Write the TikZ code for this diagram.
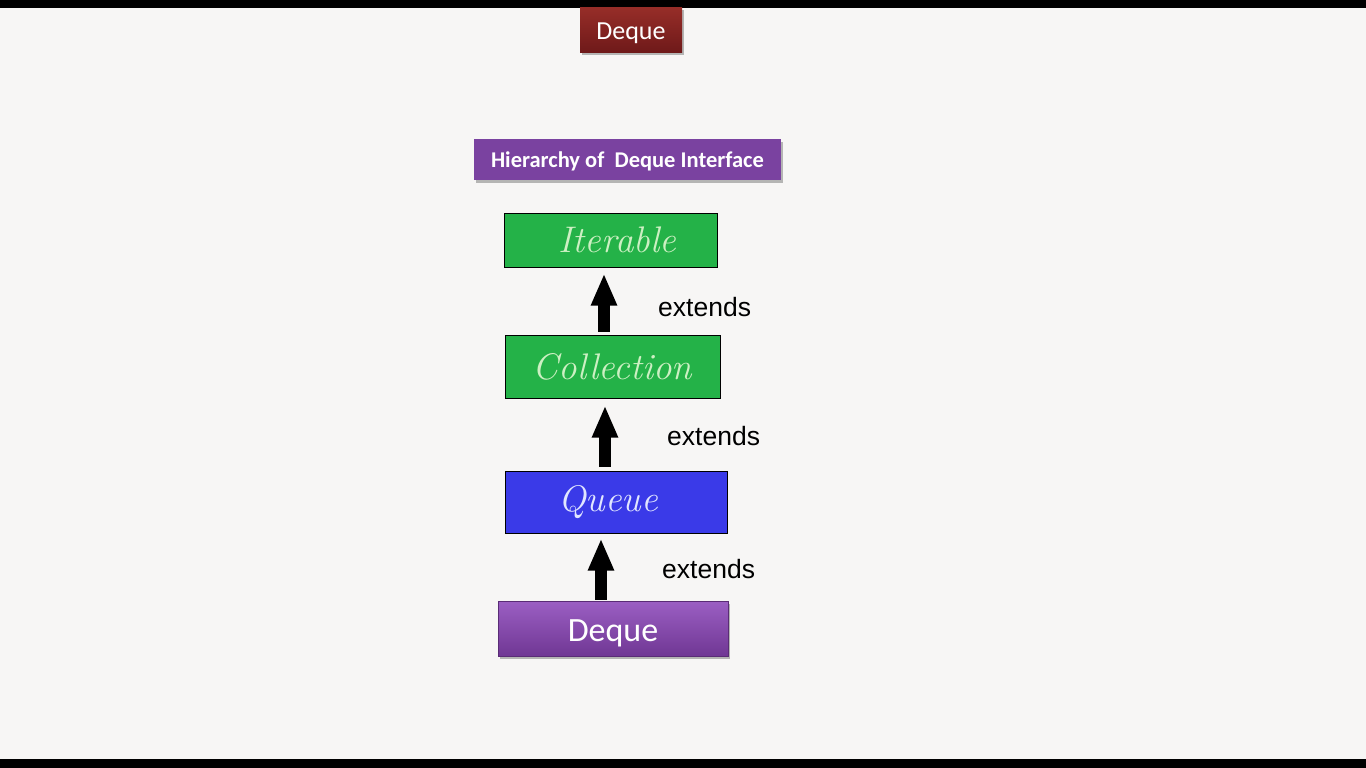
\documentclass[tikz,border=0pt]{standalone}
\usepackage{fontspec}
\setmainfont{Carlito}
\newfontfamily\arialf{Liberation Sans}
\usetikzlibrary{arrows.meta,shadows}
\definecolor{bg}{RGB}{247,246,245}
\definecolor{redtop}{RGB}{150,45,40}
\definecolor{redbot}{RGB}{110,25,25}
\definecolor{purpH}{RGB}{122,66,160}
\definecolor{purpT}{RGB}{155,95,195}
\definecolor{purpB}{RGB}{112,55,148}
\definecolor{gbox}{RGB}{36,178,72}
\definecolor{gtext}{RGB}{205,240,195}
\definecolor{bbox}{RGB}{58,58,232}
\definecolor{btext}{RGB}{225,230,255}
\tikzset{
  x=1pt,y=-1pt,
  shadowed/.style={drop shadow={shadow xshift=1.5pt,shadow yshift=-2.5pt,opacity=0.45,fill=black!60}},
  titlebox/.style={shadowed,rectangle,inner sep=0pt,text=white},
  classbox/.style={rectangle,draw=black,line width=1pt,inner sep=0pt,
     font=\fontsize{37}{40}\selectfont\itshape\rmfamily},
  blockarrow/.style={line width=12pt,-{Triangle[width=24pt,length=32pt]}},
  extlabel/.style={font=\arialf\fontsize{26.5}{28}\selectfont,text=black,anchor=west,inner sep=0pt}
}
\begin{document}
\begin{tikzpicture}
\useasboundingbox (0,0) rectangle (1366,768);
\fill[bg] (0,0) rectangle (1366,768);
\fill[black] (0,0) rectangle (1366,8);
\fill[black] (0,759) rectangle (1366,768);

\node[titlebox,top color=redtop,bottom color=redbot,minimum width=102pt,minimum height=45pt,
  text height=23pt,text depth=5pt,
  font=\fontsize{26}{28}\selectfont] (topdeque) at (631,30.5) {Deque};

\node[titlebox,fill=purpH,minimum width=307pt,minimum height=41pt,
  text height=20pt,text depth=4.5pt,
  font=\fontsize{22.5}{24}\selectfont\bfseries] (title) at (627.5,159.5) {Hierarchy of\ \ Deque Interface};

\node[classbox,fill=gbox,text=gtext,minimum width=213pt,minimum height=54pt] (iter) at (610.5,240) {\fontfamily{lmr}\selectfont\hspace*{14pt}Iterable};
\node[classbox,fill=gbox,text=gtext,minimum width=215pt,minimum height=63pt] (coll) at (612.5,366.5) {\fontfamily{lmr}\selectfont Collection};
\node[classbox,fill=bbox,text=btext,minimum width=222pt,minimum height=62pt] (queue) at (616,502) {\fontfamily{lmr}\selectfont Queue\hspace*{16pt}};

\node[titlebox,top color=purpT,bottom color=purpB,draw=purpB!80!black,minimum width=230pt,minimum height=55pt,
  text height=32pt,text depth=6.5pt,
  font=\fontsize{34}{36}\selectfont] (deque) at (613,628.5) {Deque};

\draw[blockarrow] ([xshift=-8.5pt,yshift=3pt]coll.north) -- ([xshift=-8.5pt,yshift=-6pt]coll.north |- iter.south);
\draw[blockarrow] ([xshift=-7.5pt,yshift=4pt]queue.north -| coll.center) -- ([xshift=-7.5pt,yshift=-7pt]coll.south);
\draw[blockarrow] ([xshift=-12pt,yshift=1pt]deque.north) -- ([xshift=-15pt,yshift=-5pt]queue.south);

\node[extlabel] (e1) at (658,307) {extends};
\node[extlabel] (e2) at (667,436) {extends};
\node[extlabel] (e3) at (662,569) {extends};
\end{tikzpicture}
\end{document}
